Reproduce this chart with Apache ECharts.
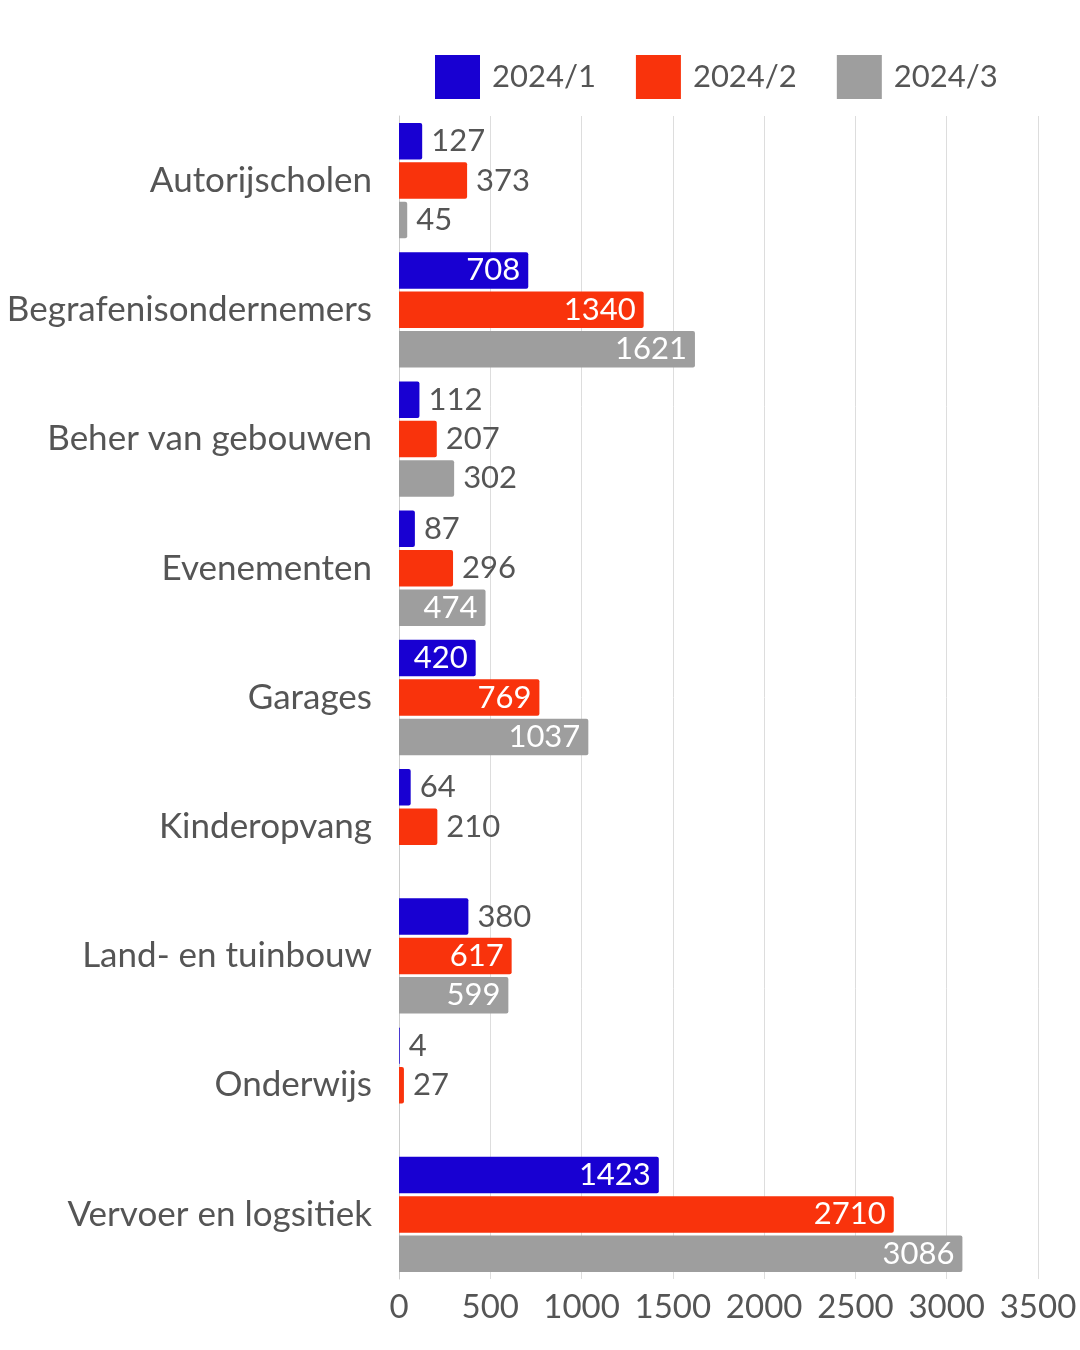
<!DOCTYPE html>
<html>
<head>
<meta charset="utf-8">
<script src="https://cdn.jsdelivr.net/npm/echarts@6/dist/echarts.min.js"></script>
<style>
  html, body { margin: 0; padding: 0; background: #fff; }
  #chart { width: 1080px; height: 1350px; }
</style>
</head>
<body>
<div id="chart"></div>
<script>
// categorieën en waarden per kwartaal
const categories = [
  "Autorijscholen", "Begrafenisondernemers", "Beher van gebouwen", "Evenementen",
  "Garages", "Kinderopvang", "Land- en tuinbouw", "Onderwijs", "Vervoer en logsitiek"
];
const q1 = [127, 708, 112, 87, 420, 64, 380, 4, 1423];
const q2 = [373, 1340, 207, 296, 769, 210, 617, 27, 2710];
const q3 = [45, 1621, 302, 474, 1037, null, 599, null, 3086];
const seriesNames = ["2024/1", "2024/2", "2024/3"];
const colors = ["#1800d2", "#f9330c", "#9e9e9e"];

const FONT = "Lato";
const TEXT = "#555555";

// lange balken krijgen het label binnenin (wit), korte erachter (grijs)
function withLabels(values) {
  return values.map(function (v) {
    if (v === null) return "-";
    if (v >= 400) {
      return { value: v, label: { position: "insideRight", color: "#ffffff", distance: 8 } };
    }
    return { value: v, label: { position: "right", color: TEXT, distance: 9 } };
  });
}

const chart = echarts.init(document.getElementById("chart"));

const option = {
  animation: false,
  color: colors,
  textStyle: { fontFamily: FONT },
  legend: {
    top: 50,
    left: 430,
    itemWidth: 45,
    itemHeight: 44,
    itemGap: 40,
    icon: "rect",
    itemStyle: { borderRadius: 2 },
    textStyle: { fontSize: 31, color: TEXT, fontFamily: FONT, padding: [0, 0, 0, 7] },
    data: seriesNames
  },
  grid: {
    left: 399,
    top: 116,
    width: 639,
    height: 1163
  },
  xAxis: {
    type: "value",
    min: 0,
    max: 3500,
    interval: 500,
    axisLine: { show: false },
    axisTick: { show: false },
    splitLine: { lineStyle: { color: "#dddddd", width: 1 } },
    axisLabel: {
      fontSize: 33, color: TEXT, fontFamily: FONT, margin: 12,
      formatter: function (v) { return String(v); }
    }
  },
  yAxis: {
    type: "category",
    inverse: true,
    data: categories,
    axisLine: { show: true, lineStyle: { color: "#cccccc", width: 1 } },
    axisTick: { show: false },
    axisLabel: { fontSize: 35, color: TEXT, fontFamily: FONT, margin: 27 }
  },
  series: [q1, q2, q3].map(function (vals, i) {
    return {
      name: seriesNames[i],
      type: "bar",
      barWidth: 36.5,
      barGap: "8%",
      itemStyle: { borderRadius: [0, 2, 2, 0] },
      label: { show: true, fontSize: 31, fontFamily: FONT },
      data: withLabels(vals)
    };
  })
};

chart.setOption(option);
</script>
</body>
</html>
